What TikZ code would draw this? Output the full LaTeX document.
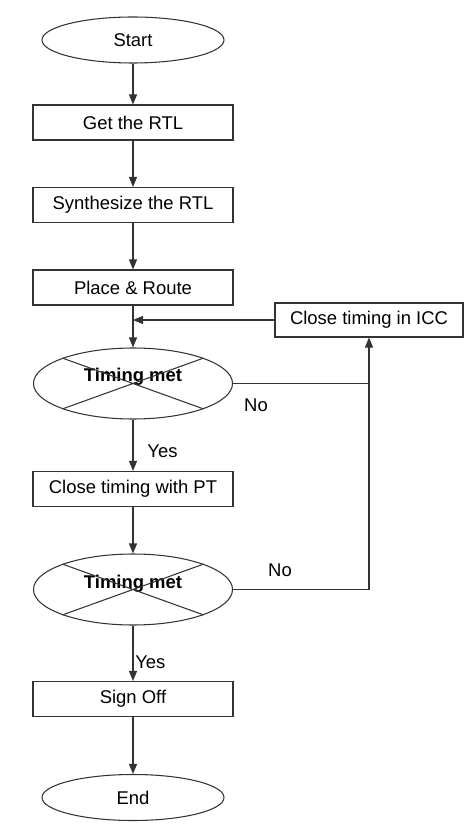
\documentclass[tikz,border=0pt]{standalone}
\usepackage{fontspec}
\setmainfont{Liberation Sans}
\usetikzlibrary{arrows.meta,shapes}
\tikzstyle{box} = [rectangle, draw, minimum width=4cm, minimum height=0.7cm, inner sep=0pt]
\tikzstyle{term} = [ellipse, draw, minimum width=3.64cm, minimum height=0.92cm, inner sep=0pt]
\tikzstyle{dec} = [ellipse, draw, minimum width=3.98cm, minimum height=1.42cm, inner sep=0pt]

\begin{document}
\begin{tikzpicture}[->,>={Triangle[length=2mm,width=1.6mm]},node distance=1.65cm,
                    line width=0.6pt,draw=black!80,font=\fontsize{10.5}{12.6}\selectfont]
  \useasboundingbox (-2.66,0.8) rectangle (6.82,-15.8);
  \node[term]    (start)                               {Start};
  \node[box]     (rtl)     [below of=start]            {Get the RTL};
  \node[box]     (synth)   [below of=rtl]              {Synthesize the RTL};
  \node[box]     (pnr)     [below of=synth]            {Place \& Route};
  \node[dec,label={[yshift=0.14cm]center:\textbf{Timing met}}] (chk1) [below of=pnr, yshift=-0.27cm] {};
  \node[box]     (ptfix)   [below of=chk1, yshift=-0.46cm] {Close timing with PT};
  \node[dec,label={[yshift=0.12cm]center:\textbf{Timing met}}] (chk2) [below of=ptfix, yshift=-0.36cm] {};
  \node[box]     (signoff) [below of=chk2, yshift=-0.54cm] {Sign Off};
  \node[term]    (finish)  [below of=signoff, yshift=-0.32cm] {End};
  \node[box,minimum width=3.76cm,minimum height=0.68cm] (icc) [right of=pnr, xshift=3.07cm, yshift=-0.65cm] {Close timing in ICC};

  % crosses on the two checks
  \draw[-] (chk1.north west) -- (chk1.south east) (chk1.south west) -- (chk1.north east);
  \draw[-] (chk2.north west) -- (chk2.south east) (chk2.south west) -- (chk2.north east);

  \path (start) edge (rtl)
  (rtl) edge (synth)
  (synth) edge (pnr)
  (pnr) edge (chk1)
  (chk1) edge node[right,xshift=0.16cm,yshift=-0.12cm] {Yes} (ptfix)
  (ptfix) edge (chk2)
  (chk2) edge node[right,inner sep=1pt,yshift=-0.18cm] {Yes} (signoff)
  (signoff) edge (finish);

  \draw (icc.west) -- (icc.west -| pnr.south);
  \draw[-] (chk1.east) node[xshift=0.46cm,yshift=-0.44cm] {No} -- (chk1.east -| icc.south);
  \draw (chk2.east) node[xshift=0.94cm,yshift=0.39cm] {No} -| (icc.south);
\end{tikzpicture}
\end{document}
